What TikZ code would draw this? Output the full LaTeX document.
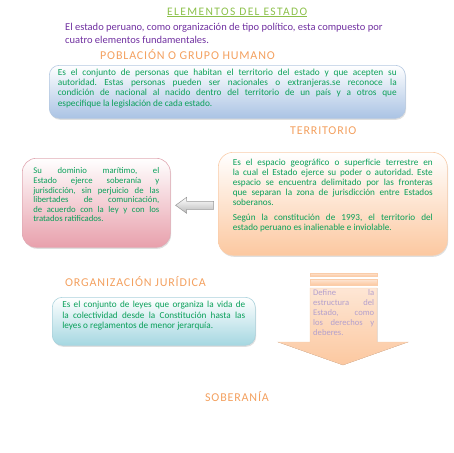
\documentclass[tikz,border=0pt]{standalone}
\usepackage{fontspec}
\setmainfont{Carlito}
\newfontfamily\cabfont[LetterSpace=7]{Carlito}
\newfontfamily\titfont[LetterSpace=12]{Carlito}
\usepackage{xcolor}
\usetikzlibrary{positioning,shadows,calc}
\definecolor{verdetit}{RGB}{140,192,74}
\definecolor{morado}{RGB}{112,48,160}
\definecolor{naranja}{RGB}{243,160,95}
\definecolor{verde}{RGB}{10,160,90}
\definecolor{azul}{RGB}{170,195,228}
\definecolor{azulborde}{RGB}{180,200,225}
\definecolor{rosa}{RGB}{232,160,172}
\definecolor{rosaborde}{RGB}{225,170,180}
\definecolor{durazno}{RGB}{252,200,160}
\definecolor{duraznoborde}{RGB}{250,205,170}
\definecolor{celeste}{RGB}{165,215,225}
\definecolor{celesteborde}{RGB}{170,210,220}
\definecolor{lila}{RGB}{180,160,205}
\frenchspacing

\begin{document}
\begin{tikzpicture}[x=1pt,y=-1pt,
	cabecera/.style={inner sep=0pt,text=naranja,font=\cabfont\fontsize{12}{14}\selectfont},
	caja/.style={draw=#1,rounded corners=10pt,anchor=north west,text=verde,line width=0.6pt,
		drop shadow={opacity=.25,shadow xshift=0.8pt,shadow yshift=-1.5pt}},
	flechagris/.style={draw=gray!80,top color=white,bottom color=gray!55,line width=0.5pt},
	flechadura/.style={draw=duraznoborde,top color=durazno!45,bottom color=durazno}]
	\useasboundingbox (0,0) rectangle (453,453);

	\node[anchor=base west,inner sep=0pt,text=verdetit,font=\titfont\fontsize{11.5}{13}\selectfont] (tit) at (167,15) {\underline{ELEMENTOS DEL ESTADO}};
	\node[anchor=base west,inner sep=0pt,text=morado,font=\fontsize{10.5}{13}\selectfont] (intro) at (65,30.5)
		{\parbox[t]{325pt}{El estado peruano, como organización de tipo político, esta compuesto por\\ cuatro elementos fundamentales.}};

	\node[caja=azulborde,top color=white,bottom color=azul,inner xsep=8.5pt,inner ysep=3.5pt,font=\fontsize{9.3}{10.3}\selectfont] (pob) at (49,65)
		{\parbox[t][46pt][t]{339pt}{Es el conjunto de personas que habitan el territorio del estado y que acepten su\linebreak autoridad. Estas personas pueden ser nacionales o extranjeras.se reconoce la\linebreak condición de nacional al nacido dentro del territorio de un país y a otros que\linebreak especifique la legislación de cada estado.}};
	\node[cabecera] (tpob) [above right=5pt and 51pt of pob.north west,anchor=south west] {POBLACIÓN O GRUPO HUMANO};

	\node[caja=duraznoborde,top color=white,bottom color=durazno,rounded corners=15pt,inner xsep=14.5pt,inner ysep=7pt,font=\fontsize{9.2}{10}\selectfont] (terr) at (218,152)
		{\parbox[t][89pt][t]{200pt}{Es el espacio geográfico o superficie terrestre en\linebreak la cual el Estado ejerce su poder o autoridad. Este\linebreak espacio se encuentra delimitado por las fronteras\linebreak que separan la zona de jurisdicción entre Estados\linebreak soberanos.\par\vspace{4.5pt}Según la constitución de 1993, el territorio del\linebreak estado peruano es inalienable e inviolable.}};
	\node[cabecera] (tterr) [above right=17pt and 72pt of terr.north west,anchor=south west] {TERRITORIO};

	\node[caja=rosaborde,top color=white,bottom color=rosa,rounded corners=14pt,inner xsep=11pt,inner ysep=9.5pt,font=\fontsize{8.7}{9.6}\selectfont] (mar) at (22,158)
		{\parbox[t][70pt][t]{126pt}{Su dominio marítimo, el\linebreak Estado ejerce soberanía y\linebreak jurisdicción, sin perjuicio de las\linebreak libertades de comunicación,\linebreak de acuerdo con la ley y con los\linebreak tratados ratificados.}};

	\coordinate (pb) at ($(mar.east)+(5,2.5)$);
	\draw[flechagris] (pb) -- ++(11,-8) -- ++(0,4) -- ++(27,0) -- ++(0,8) -- ++(-27,0) -- ++(0,4) -- cycle;

	\node[caja=celesteborde,top color=white,bottom color=celeste,inner xsep=10pt,inner ysep=4pt,font=\fontsize{9.2}{10.5}\selectfont] (jur) at (52,297)
		{\parbox[t][40pt][t]{183pt}{Es el conjunto de leyes que organiza la vida de\linebreak la colectividad desde la Constitución hasta las\linebreak leyes o reglamentos de menor jerarquía.}};
	\node[cabecera] (tjur) [above right=10.5pt and 13pt of jur.north west,anchor=south west] {ORGANIZACIÓN JURÍDICA};

	\fill[flechadura] (310,273) rectangle (377,276);
	\fill[flechadura] (310,279) rectangle (377,285);
	\filldraw[flechadura] (310,288) -- (377,288) -- (377,342) -- (408,342) -- (343,365) -- (278,342) -- (310,342) -- cycle;
	\node[anchor=north west,inner sep=0pt,text=lila,font=\fontsize{8.6}{9.9}\selectfont] (def) at (313,289.5)
		{\parbox[t]{61pt}{Define la\linebreak estructura del\linebreak Estado, como\linebreak los derechos y\linebreak deberes.}};

	\node[cabecera,anchor=base] (sob) at (237,401) {SOBERANÍA};
\end{tikzpicture}
\end{document}
